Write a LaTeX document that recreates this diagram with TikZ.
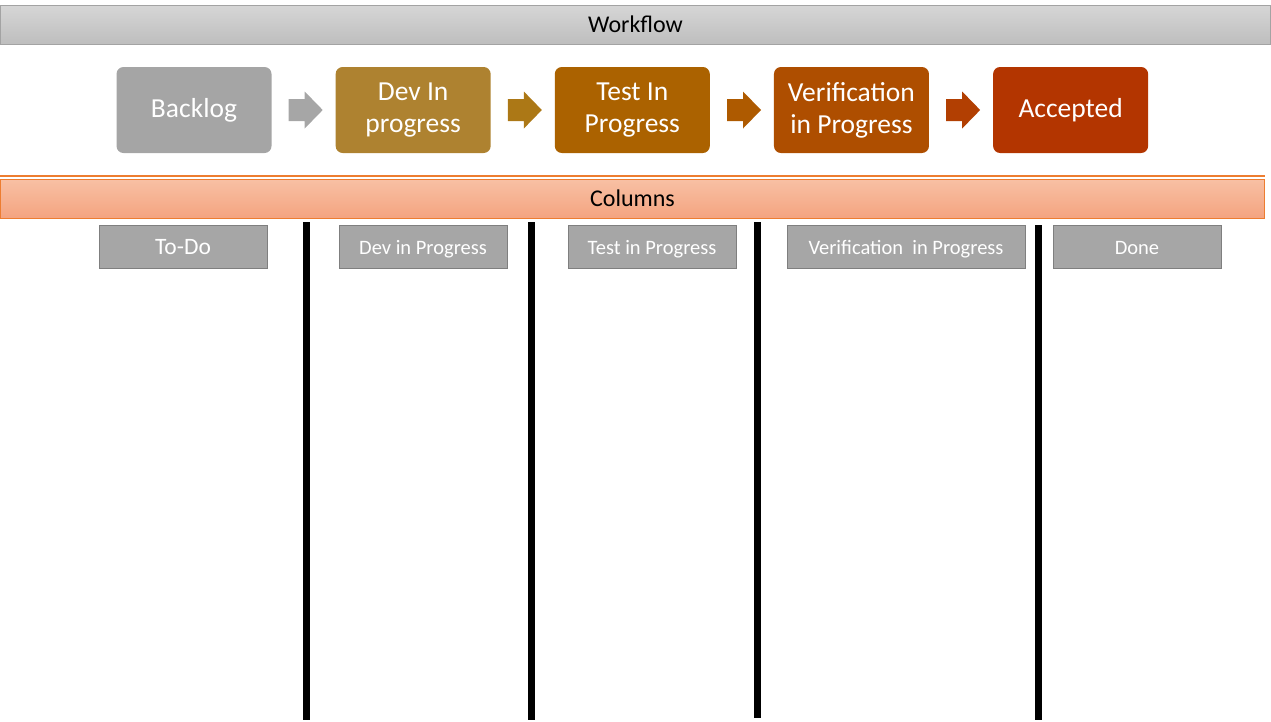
\documentclass[tikz,border=0pt]{standalone}
\usepackage{fontspec}
\setmainfont{Carlito}
\usepackage{tikz}
\usetikzlibrary{positioning,calc}

\definecolor{barGrayTop}{HTML}{D6D6D6}
\definecolor{barGrayBot}{HTML}{BEBEBE}
\definecolor{barGrayLine}{HTML}{A3A3A3}
\definecolor{barOrTop}{HTML}{F8C0A4}
\definecolor{barOrBot}{HTML}{F4A480}
\definecolor{barOrLine}{HTML}{ED7D31}
\definecolor{backlogC}{HTML}{A5A5A5}
\definecolor{devC}{HTML}{AE8230}
\definecolor{testC}{HTML}{AB6200}
\definecolor{verifC}{HTML}{AE4E00}
\definecolor{acceptC}{HTML}{B33500}
\definecolor{arrowA}{HTML}{A6A6A6}
\definecolor{arrowB}{HTML}{AC7816}
\definecolor{arrowC}{HTML}{AE5A00}
\definecolor{arrowD}{HTML}{B23F02}
\definecolor{headC}{HTML}{A6A6A6}
\definecolor{headLine}{HTML}{7F7F7F}

\begin{document}
\begin{tikzpicture}[%
        x=1pt,y=-1pt,
        node distance=63.75pt,
        bar/.style={%
          minimum height=39pt,
          inner sep=0pt,
          font=\fontsize{24}{28}\selectfont
        },
        stage/.style={%
          rounded corners=7pt,
          minimum width=155pt,
          minimum height=86pt,
          inner sep=0pt,
          align=center,
          text=white,
          font=\fontsize{27.5}{32}\selectfont
        },
        colhead/.style={%
          draw=headLine,
          fill=headC,
          line width=1pt,
          minimum width=168pt,
          minimum height=43pt,
          inner sep=0pt,
          text height=19.5pt,
          text depth=4.5pt,
          text=white,
          font=\fontsize{20.5}{24}\selectfont
        },
        divider/.style={line width=7pt}
      ]
      \useasboundingbox (0,0) rectangle (1271,721);
      % top bar
      \node[bar,draw=barGrayLine,top color=barGrayTop,bottom color=barGrayBot,
            minimum width=1270pt] (workflow) at (635.5,24.5) {Workflow};
      % stages
      \node[stage,fill=backlogC] (backlog) at (194,110) {Backlog};
      \node[stage,fill=devC] (dev) [right=of backlog] {Dev In\\progress};
      \node[stage,fill=testC] (test) [right=of dev] {Test In\\Progress};
      \node[stage,fill=verifC] (verif) [right=of test] {Verification\\in Progress};
      \node[stage,fill=acceptC] (accept) [right=of verif] {Accepted};
      \foreach \a/\b in {backlog/arrowA,dev/arrowB,test/arrowC,verif/arrowD}
        \fill[\b] ($(\a.east)+(17,-11)$) -- ++(16,0) -- ++(0,-7.5) -- ++(18,18.5)
          -- ++(-18,18.5) -- ++(0,-7.5) -- ++(-16,0) -- cycle;
      % columns bar
      \draw[barOrLine,line width=1.5pt] (0,176) -- (1265,176);
      \node[bar,draw=barOrLine,top color=barOrTop,bottom color=barOrBot,
            minimum width=1264pt] (columns) at (632.5,198.5) {Columns};
      \node[colhead,font=\fontsize{23.5}{28}\selectfont,text height=21pt,text depth=5pt]
        (todo) at (183,246.5) {To-Do};
      \node[colhead] (devcol) at (423,246.5) {Dev in Progress};
      \node[colhead] (testcol) at (652,246.5) {Test in Progress};
      \node[colhead,minimum width=238pt] (verifcol) at (906,246.5) {Verification\ \ in Progress};
      \node[colhead] (done) at (1137,246.5) {Done};
      \draw[divider] (306.5,222) -- (306.5,720);
      \draw[divider] (531,222) -- (531,720);
      \draw[divider] (757,222) -- (757,718);
      \draw[divider] (1038,225) -- (1038,720);
  \end{tikzpicture}
\end{document}
